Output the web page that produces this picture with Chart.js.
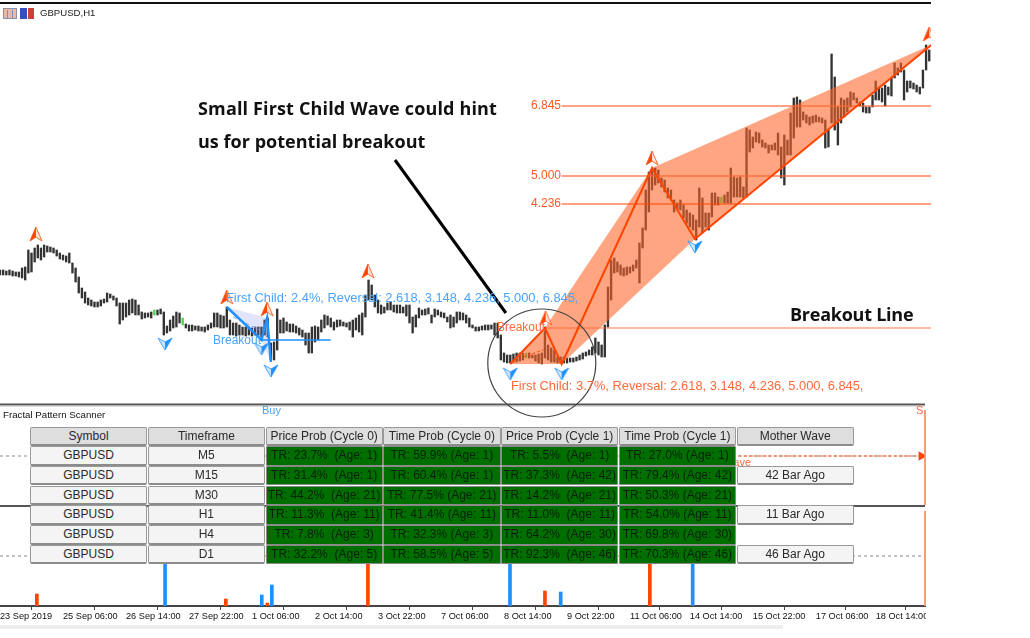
<!DOCTYPE html>
<html>
<head>
<meta charset="utf-8">
<title>GBPUSD,H1</title>
<script src="https://cdn.jsdelivr.net/npm/chart.js@4"></script>
<style>
  html, body { margin: 0; padding: 0; background: #fff; overflow: hidden; }
  body { position: relative; width: 1030px; height: 638px; font-family: "Liberation Sans", Arial, sans-serif; }
  #myChart { position: absolute; left: 0; top: 0; }
  .box { position: absolute; }
  .cell { position: absolute; box-sizing: border-box; text-align: center; white-space: pre; font-size: 12px;
          line-height: 17px; color: #2a2a2a; border: 1px solid #999; border-bottom: 2px solid #8c8c8c; border-radius: 2px; background: #f4f4f4; }
  .head { background: #dedede; }
  .good { background: #006f00; color: #06200a; border: 1px solid #8a8a8a; border-radius: 1px; }
</style>
</head>
<body>
<canvas id="myChart" width="1030" height="638"></canvas>
<div class="box" style="left:0;top:2px;width:931px;height:1.5px;background:#111"></div>
<div class="box" style="left:3px;top:8px;width:14px;height:11px;background:#e8b9a8;border:1px solid #8a8fa8;box-sizing:border-box"></div>
<div class="box" style="left:7px;top:10px;width:1px;height:8px;background:#7a90c8"></div>
<div class="box" style="left:12px;top:10px;width:1px;height:8px;background:#7a90c8"></div>
<div class="box" style="left:20px;top:8px;width:7px;height:11px;background:#3450c0"></div>
<div class="box" style="left:28px;top:8px;width:6px;height:11px;background:#c84040"></div>
<div class="box" style="left:40px;top:7px;font-size:9.6px;line-height:11px;color:#222">GBPUSD,H1</div>
<div class="box" style="left:3px;top:409px;font-size:9.7px;line-height:11px;color:#111">Fractal Pattern Scanner</div>
<div class="box" style="left:0;top:625px;width:783px;height:4px;background:#eee"></div>
<div id="scanner"></div>

<script>
// price values are in 0.00025 steps above 1.2000
const barHigh = [370,370,369,370,369,368,368,372,373,390,387,392,395,392,395,394,393,392,390,387,
385,384,387,377,372,363,352,348,342,340,338,338,340,341,347,346,344,342,337,337,
337,340,341,340,335,328,327,327,328,330,330,331,328,314,320,324,328,327,322,316,
315,315,314,314,313,313,315,317,327,327,325,324,333,320,317,317,315,313,313,313,
312,313,313,313,320,322,297,298,331,320,322,318,316,316,314,312,310,307,307,313,
314,313,320,325,324,322,318,320,320,318,317,318,320,322,325,327,345,360,355,345,
340,335,333,337,338,335,335,335,333,335,335,323,325,332,330,331,332,325,331,330,
328,327,323,325,323,328,328,327,325,322,315,313,313,314,315,315,315,317,317,305,
287,285,285,286,287,287,287,287,287,285,285,286,287,313,295,292,290,283,283,283,
282,282,282,283,285,287,288,290,293,302,298,295,315,353,380,382,378,375,372,373,
373,375,380,397,412,450,468,470,472,470,462,460,452,450,440,437,440,435,430,427,
425,420,452,442,427,427,447,447,443,443,445,448,472,463,462,463,453,512,510,503,
508,507,500,497,495,495,497,507,493,505,500,527,542,543,540,528,525,523,524,525,
523,522,520,510,586,563,533,542,540,542,548,547,542,538,537,533,533,545,559,553,
552,555,553,562,577,572,577,570,559,559,557,555,553,570,595,590];
const barLow = [365,365,365,365,364,364,363,362,360,367,368,378,382,380,383,388,388,387,384,381,
380,378,377,367,358,347,342,337,335,334,333,333,334,337,338,342,340,334,316,320,
323,325,327,325,325,321,322,323,322,325,325,326,305,307,309,312,313,317,315,312,
309,309,310,309,309,308,310,312,313,313,312,312,313,305,305,304,305,305,304,305,
304,305,305,300,305,303,280,280,290,307,307,309,308,308,307,305,303,295,287,287,
298,300,308,312,315,313,310,313,314,314,313,310,303,310,308,305,323,340,340,333,
327,326,327,330,330,328,327,327,327,324,317,307,313,322,325,325,326,317,323,325,
323,322,318,312,313,317,320,320,317,313,312,309,309,310,310,310,311,305,302,280,
278,277,277,278,278,279,280,282,282,282,279,277,276,282,280,278,278,277,277,277,
277,278,278,279,280,281,284,285,285,287,285,283,283,313,340,367,368,365,364,365,
367,369,372,357,392,410,428,450,455,457,453,448,442,440,428,430,430,422,417,413,
410,400,413,407,413,410,423,435,435,437,437,437,437,443,443,443,442,443,488,492,
498,497,493,492,487,490,490,485,462,455,485,485,502,513,513,520,517,515,517,518,
518,517,492,493,517,510,495,517,523,528,533,540,537,534,528,527,527,533,540,540,
538,534,545,544,562,565,568,540,548,552,551,548,546,552,570,579];
const dojiBars = [49,58,167,229];

const tickBars = [0,20,40,60,80,100,120,140,160,180,200,219,239,259,278];
const tickLabels = ['23 Sep 2019','25 Sep 06:00','26 Sep 14:00','27 Sep 22:00','1 Oct 06:00','2 Oct 14:00','3 Oct 22:00','7 Oct 06:00','8 Oct 14:00','9 Oct 22:00','11 Oct 06:00','14 Oct 14:00','15 Oct 22:00','17 Oct 06:00','18 Oct 14:00'];

const redWaveBars = [162,173,178.3,207,220.6,295.6];
const redWavePrices = [276,312,276,472,401,595];
const blueWaveBars = [72,83,84.8,86];
const blueWavePrices = [333,300,322,278];
const blueBreakoutBars = [83,105];
const blueBreakoutPrice = 300;

const fibLevels = [6.845,5.000,4.236];
const fibPrices = [534,464,436];
const breakoutPrice = 312;

const upFractalBars = [11.4,72,84.8,116.8,173.2,207,295];
const upFractalPrices = [406,343,331,369,322,482,606];
const downFractalBars = [52.4,83,86,162,178.3,220.6];
const downFractalPrices = [297,292,270,267,267,394];

const sellSpikeBars = [11.7,71.7,84.9,116.8,173,206.3];
const sellSpikeValues = [12,7,3,60,15,60];
const buySpikeBars = [52.4,83.1,86.3,161.9,178,219.9];
const buySpikeValues = [60,11,21,60,14,60];

const symbols = ['GBPUSD','GBPUSD','GBPUSD','GBPUSD','GBPUSD','GBPUSD'];
const timeframes = ['M5','M15','M30','H1','H4','D1'];
const tableHeads = ['Symbol','Timeframe','Price Prob (Cycle 0)','Time Prob (Cycle 0)','Price Prob (Cycle 1)','Time Prob (Cycle 1)','Mother Wave'];
const priceProb0 = ['23.7','31.4','44.2','11.3','7.8','32.2'];
const timeProb0 = ['59.9','60.4','77.5','41.4','32.3','58.5'];
const age0 = [1,1,21,11,3,5];
const priceProb1 = ['5.5','37.3','14.2','11.0','64.2','92.3'];
const timeProb1 = ['27.0','79.4','50.3','54.0','69.8','70.3'];
const age1 = [1,42,21,11,30,46];
const motherWave = ['','42 Bar Ago','','11 Bar Ago','','46 Bar Ago'];

const RED = '#ff4500', BLUE = '#1e90ff', SALMON = 'rgba(255,100,50,0.6)';

// the little two-tone fractal arrows
function fractalArrow(color, pale, up) {
  const c = document.createElement('canvas');
  c.width = 16; c.height = 16;
  const g = c.getContext('2d');
  const tip = up ? 1 : 15, wing = up ? 15 : 3, notch = up ? 11 : 7;
  g.fillStyle = up ? color : pale;
  g.beginPath(); g.moveTo(8,tip); g.lineTo(up ? 2 : 1,wing); g.lineTo(8,notch); g.closePath(); g.fill();
  g.fillStyle = up ? pale : color;
  g.beginPath(); g.moveTo(8,tip); g.lineTo(up ? 14 : 15,wing); g.lineTo(8,notch); g.closePath(); g.fill();
  g.strokeStyle = color; g.lineWidth = 0.8;
  g.beginPath(); g.moveTo(8,tip); g.lineTo(up ? 2 : 1,wing); g.lineTo(8,notch); g.lineTo(up ? 14 : 15,wing); g.closePath(); g.stroke();
  return c;
}

function pts(xs, ys) { return xs.map((x,i) => ({x: x, y: ys[i]})) }

function lineSet(data, color, width, order, extra) {
  return Object.assign({type:'line', data, borderColor:color, borderWidth:width, pointRadius:0, fill:false, tension:0, order, yAxisID:'y'}, extra || {});
}

const datasets = [
  {type:'scatter', data:pts(upFractalBars,upFractalPrices), pointStyle:fractalArrow(RED,'#ffe4da',true), order:1, yAxisID:'y', showLine:false},
  {type:'scatter', data:pts(downFractalBars,downFractalPrices), pointStyle:fractalArrow(BLUE,'#cfe6ff',false), order:1, yAxisID:'y', showLine:false},
  {type:'scatter', data:[{x:172,y:277}], pointRadius:54, pointBorderColor:'#444', pointBackgroundColor:'transparent', pointBorderWidth:1.2, order:2, yAxisID:'y', clip:false},
  lineSet([{x:125.4,y:480},{x:160.6,y:327}], '#000', 3, 3),
  lineSet(pts(redWaveBars,redWavePrices), RED, 2, 4),
  lineSet(pts(blueWaveBars,blueWavePrices), BLUE, 2.5, 4),
  lineSet([{x:blueBreakoutBars[0],y:blueBreakoutPrice},{x:blueBreakoutBars[1],y:blueBreakoutPrice}], BLUE, 1.5, 4),
  lineSet([{x:74,y:323},{x:82.5,y:310}], '#7aa8f0', 1, 5, {borderDash:[4,3]}),
  lineSet([{x:166,y:283},{x:172.5,y:290}], RED, 1, 5, {borderDash:[3,2]}),
  // fib levels
  lineSet([{x:178.3,y:fibPrices[0]},{x:295.6,y:fibPrices[0]}], SALMON, 2, 5),
  lineSet([{x:178.3,y:fibPrices[1]},{x:295.6,y:fibPrices[1]}], SALMON, 2, 5),
  lineSet([{x:178.3,y:fibPrices[2]},{x:295.6,y:fibPrices[2]}], RED, 1, 5),
  lineSet([{x:173,y:breakoutPrice},{x:295.6,y:breakoutPrice}], SALMON, 1.6, 5),
  // sell level and signal in the lower panel
  lineSet([{x:293.65,y:230},{x:293.65,y:135},{x:293.65,y:NaN},{x:293.65,y:129},{x:293.65,y:34}], '#ff9a78', 2, 5),
  lineSet([{x:234.5,y:184},{x:292.5,y:184}], '#ff7f50', 1.5, 5, {borderDash:[3,2], pointRadius:[0,4], pointStyle:'triangle', pointRotation:90, pointBackgroundColor:RED, pointBorderColor:RED}),
  lineSet([{x:0,y:184},{x:293.6,y:184}], '#888', 1, 9, {borderDash:[3,3]}),
  lineSet([{x:0,y:84},{x:293.6,y:84}], '#888', 1, 9, {borderDash:[3,3]}),
  // shaded wave areas sit over the bars
  {type:'line', data:[0,1,3,4,2].map(k => ({x:redWaveBars[k],y:redWavePrices[k]})), fill:'shape', backgroundColor:'rgba(255,100,40,0.58)', borderWidth:0, pointRadius:0, order:6, yAxisID:'y'},
  {type:'line', data:[3,5,4].map(k => ({x:redWaveBars[k],y:redWavePrices[k]})), fill:'shape', backgroundColor:'rgba(255,100,40,0.58)', borderWidth:0, pointRadius:0, order:6, yAxisID:'y'},
  {type:'line', data:[0,2,3,1].map(k => ({x:blueWaveBars[k],y:blueWavePrices[k]})), fill:'shape', backgroundColor:'rgba(120,130,230,0.22)', borderWidth:0, pointRadius:0, order:6, yAxisID:'y'},
  {type:'bar', data:barHigh.map((h,i) => ({x:i,y:[barLow[i],h]})), grouped:false, barThickness:1.7, order:8, yAxisID:'y',
    backgroundColor: c => dojiBars.includes(c.dataIndex) ? '#49d649' : '#333'},
  {type:'bar', data:pts(sellSpikeBars,sellSpikeValues), grouped:false, barThickness:3, backgroundColor:RED, order:7, yAxisID:'yInd'},
  {type:'bar', data:pts(buySpikeBars,buySpikeValues), grouped:false, barThickness:3, backgroundColor:BLUE, order:7, yAxisID:'yInd'}
];

function put(c, text, x, y, font, color, spacing, align) {
  c.font = font; c.fillStyle = color; c.textBaseline = 'middle'; c.textAlign = align || 'left';
  c.letterSpacing = (spacing || 0) + 'px';
  c.fillText(text, x, y);
  c.letterSpacing = '0px';
}

const chartNotes = {
  id: 'chartNotes',
  beforeDatasetsDraw(chart) {
    const c = chart.ctx;
    c.save();
    // panel separators
    c.fillStyle = '#555';
    c.fillRect(0, 505, 925, 2);
    c.fillRect(0, 403.5, 925, 2);
    c.fillStyle = '#bbb';
    c.fillRect(0, 405.5, 925, 1);
    c.restore();
  },
  afterDatasetsDraw(chart) {
    const c = chart.ctx, y = chart.scales.y;
    c.save();
    const bold = 'bold 18px "Open Sans"';
    put(c, 'Small First Child Wave could hint', 198, 110, bold, '#111', 0.15);
    put(c, 'us for potential breakout', 198, 143, bold, '#111', 0.03);
    put(c, 'Breakout Line', 790, 316, bold, '#111', -0.25);
    fibLevels.forEach((f,i) => {
      put(c, f.toFixed(3), 561, y.getPixelForValue(fibPrices[i]), '12px "Liberation Sans"', '#ff5a28', 0, 'right');
    });
    const small = '12.87px "Liberation Sans"';
    put(c, 'First Child: 2.4%, Reversal: 2.618, 3.148, 4.236, 5.000, 6.845,', 226, 298, small, '#4aa3ff');
    put(c, 'First Child: 3.7%, Reversal: 2.618, 3.148, 4.236, 5.000, 6.845,', 511, 386, small, '#ff6a3c');
    put(c, 'Breakout', 213, 341, '12px "Liberation Sans"', '#4aa3ff');
    put(c, 'Breakout', 497, 328, '12px "Liberation Sans"', '#ff6a3c');
    put(c, 'Buy', 262, 411, '11px "Liberation Sans"', '#4aa3ff');
    put(c, 'S', 916, 411, '11px "Liberation Sans"', '#ff6a3c');
    put(c, 'Mother Wave', 751, 463, '11px "Liberation Sans"', '#ff6a3c', 0, 'right');
    c.restore();
  },
  afterDraw(chart) {
    // the lower panels stop a little short of the main one
    const c = chart.ctx;
    c.save();
    c.fillStyle = '#fff';
    c.fillRect(926, 405, 104, 233);
    c.restore();
  }
};

new Chart(document.getElementById('myChart'), {
  data: {datasets},
  plugins: [chartNotes],
  options: {
    responsive: false,
    animation: false,
    events: [],
    layout: {autoPadding: false, padding: {top: 5, right: 99, left: 0, bottom: 0}},
    plugins: {legend: {display: false}, tooltip: {enabled: false}},
    elements: {point: {radius: 8}, bar: {borderSkipped: false}},
    scales: {
      x: {
        type: 'linear', min: 0, max: 295.56, offset: false,
        afterBuildTicks: s => { s.ticks = tickBars.map(v => ({value: v})) },
        afterFit: s => { s.height = 32; s.paddingLeft = 0; s.paddingRight = 0 },
        border: {color: '#444', width: 2},
        grid: {drawOnChartArea: false, drawTicks: true, tickLength: 4, color: '#444'},
        ticks: {
          autoSkip: false, maxRotation: 0, minRotation: 0, align: 'start', padding: 1, color: '#111',
          font: {family: '"Liberation Sans"', size: 9.2},
          callback: (v, i) => tickLabels[i]
        }
      },
      y: {type: 'linear', min: 34, max: 635, display: false},
      yInd: {type: 'linear', min: 0, max: 601, display: false}
    }
  }
});

// scanner table
const tableX = 30, tableY = 426.5, colW = 117.75, rowH = 19.72;
const host = document.getElementById('scanner');
function addCell(col, row, text, cls) {
  const d = document.createElement('div');
  d.className = 'cell ' + cls;
  d.textContent = text;
  d.style.left = (tableX + col * colW) + 'px';
  d.style.top = (tableY + row * rowH) + 'px';
  d.style.width = (colW - 0.5) + 'px';
  d.style.height = (rowH - 0.3) + 'px';
  host.appendChild(d);
}
tableHeads.forEach((h,i) => addCell(i, 0, h, 'head'));
timeframes.forEach((tf,r) => {
  addCell(0, r+1, symbols[r], '');
  addCell(1, r+1, tf, '');
  addCell(2, r+1, 'TR: ' + priceProb0[r] + '%  (Age: ' + age0[r] + ')', 'good');
  addCell(3, r+1, 'TR: ' + timeProb0[r] + '% (Age: ' + age0[r] + ')', 'good');
  addCell(4, r+1, 'TR: ' + priceProb1[r] + '%  (Age: ' + age1[r] + ')', 'good');
  addCell(5, r+1, 'TR: ' + timeProb1[r] + '% (Age: ' + age1[r] + ')', 'good');
  if (motherWave[r]) addCell(6, r+1, motherWave[r], '');
});
</script>
</body>
</html>
